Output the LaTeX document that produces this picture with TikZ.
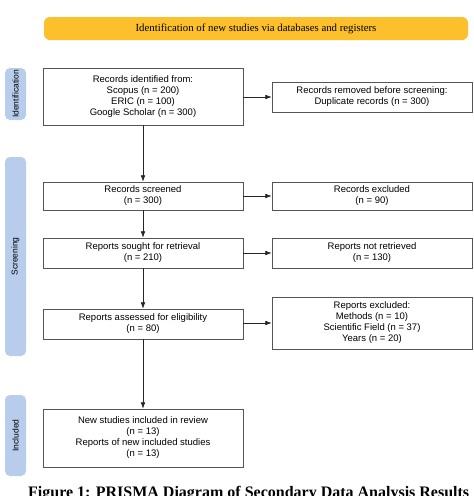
\documentclass[tikz,border=0pt]{standalone}
\usepackage{fontspec}
\setmainfont{Liberation Sans}
\newfontfamily\serifcap{Liberation Serif}
\usetikzlibrary{arrows.meta,positioning}
\definecolor{banner}{RGB}{252,192,45}
\definecolor{phase}{RGB}{184,204,236}
\definecolor{edge}{RGB}{85,85,85}
\tikzset{
  >={Latex[length=2.2mm,width=1.6mm]},
  recbox/.style={draw=edge,fill=white,line width=0.6pt,minimum width=200pt,
    minimum height=#1,align=center,font=\fontsize{9.5}{11}\selectfont,inner sep=1pt},
  recbox/.default=30pt,
  phasebar/.style={fill=phase,rounded corners=5pt,rotate=90,minimum width=#1,
    minimum height=21pt,inner sep=1pt,font=\fontsize{8.5}{9}\selectfont},
  flow/.style={->,line width=0.6pt,draw=black!85},
}

\begin{document}
\begin{tikzpicture}[x=1pt,y=-1pt]
  \useasboundingbox (0,0) rectangle (474,496);
  % top banner
  \node[fill=banner,rounded corners=6pt,minimum width=424pt,minimum height=23pt,
    font=\serifcap\fontsize{10.8}{12}\selectfont] (banner) at (256,28.5)
    {Identification of new studies via databases and registers};
  % phase labels
  \foreach \n/\y/\l/\t in {idbar/94/52pt/Identification,scrbar/256.5/199pt/Screening,incbar/435.5/81pt/Included}{
    \node[phasebar=\l] (\n) at (15.5,\y) {\t};
  }
  % main column
  \node[recbox=57pt] (ident) at (143,96.5) {Records identified from:\\Scopus (n = 200)\\ERIC (n = 100)\\Google Scholar (n = 300)};
  \node[recbox=28pt] (screen) at (143,196) {Records screened\\(n = 300)};
  \node[recbox] (sought) at (143,253) {Reports sought for retrieval\\(n = 210)};
  \node[recbox] (assess) at (143,324) {Reports assessed for eligibility\\(n = 80)};
  \node[recbox=58pt] (incl) at (143,438) {New studies included in review\\(n = 13)\\Reports of new included studies\\(n = 13)};
  % side column
  \node[recbox] (dup) at (372,97) {Records removed before screening:\\Duplicate records (n = 300)};
  \node[recbox=28pt] (excl) at (372,196) {Records excluded\\(n = 90)};
  \node[recbox] (notret) at (372,253) {Reports not retrieved\\(n = 130)};
  \node[recbox=52pt] (repexcl) at (372,323) {Reports excluded:\\Methods (n = 10)\\Scientific Field (n = 37)\\Years (n = 20)};
  % connectors
  \draw[flow] (ident) -- (screen);
  \draw[flow] (screen) -- (sought);
  \draw[flow] (sought) -- (assess);
  \draw[flow] (assess) -- (incl);
  \draw[flow] (ident.east |- dup) -- (dup);
  \draw[flow] (screen) -- (excl);
  \draw[flow] (sought) -- (notret);
  \draw[flow] (assess.east |- repexcl) -- (repexcl);
  % caption
  \node[anchor=base west,inner sep=0pt,font=\serifcap\bfseries\fontsize{16}{18}\selectfont] (cap) at (28,497)
    {Figure 1: PRISMA Diagram of Secondary Data Analysis Results};
\end{tikzpicture}
\end{document}
